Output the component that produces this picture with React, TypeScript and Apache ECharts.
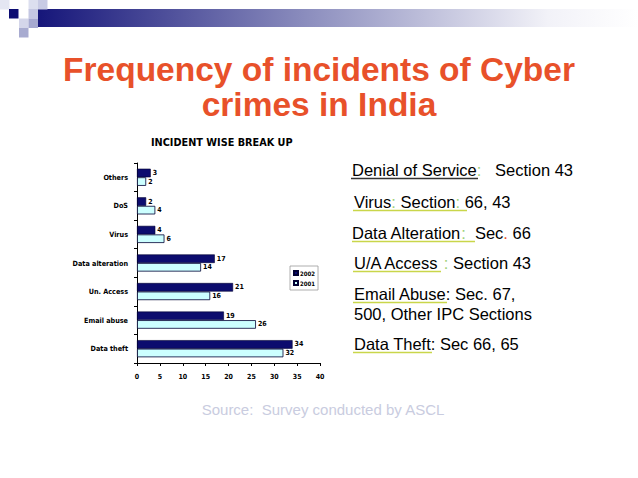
import React, { useEffect, useRef } from "react";
import * as echarts from "echarts";

const categories = ["Others", "DoS", "Virus", "Data alteration", "Un. Access", "Email abuse", "Data theft"];
const values2002 = [3, 2, 4, 17, 21, 19, 34];
const values2001 = [2, 4, 6, 14, 16, 26, 32];
const seriesNames = ["2002", "2001"];
const xTicks = { min: 0, max: 40, interval: 5 };

const titleLines = ["Frequency of incidents of Cyber", "crimes in India"];
const chartTitle = "INCIDENT WISE BREAK UP";
const sourceText = "Source:  Survey conducted by ASCL";

const NARROW = "'Liberation Sans Narrow', 'Arial Narrow', 'DejaVu Sans Condensed', sans-serif";
const ARIAL = "'Liberation Sans', Arial, sans-serif";

export default function App() {
  const ref = useRef<HTMLDivElement>(null);
  useEffect(() => {
    if (!ref.current) return;
    const chart = echarts.init(ref.current, undefined, { renderer: "svg" });

    const sq = (x: number, y: number, fill: string) => ({
      type: "rect", shape: { x, y, width: 9.5, height: 9.5 }, style: { fill }, silent: true,
    });
    const FS = 16.5;
    const txt = (x: number, baseline: number, text: string, rich?: any) => ({
      type: "text", x, y: baseline - 0.35 * FS,
      style: {
        text, fill: "#000", font: `${FS}px ${ARIAL}`, textVerticalAlign: "middle",
        rich,
      },
    });
    const uline = (x1: number, x2: number, y: number, color: string) => ({
      type: "line", shape: { x1, y1: y, x2, y2: y }, style: { stroke: color, lineWidth: 1.3 },
    });
    const yel = "#c9d64a";
    const green = "#9fd07a";
    const A = { font: `${FS}px ${ARIAL}`, fill: "#000" };
    const G = { font: `${FS}px ${ARIAL}`, fill: green };
    const TS = 33.5;

    const option: any = {
      animation: false,
      backgroundColor: "#ffffff",
      title: {
        text: chartTitle,
        left: 151, top: 137, padding: 0,
        textStyle: { fontFamily: NARROW, fontWeight: "bold", fontSize: 10.8, color: "#000" },
      },
      legend: {
        data: seriesNames,
        orient: "vertical",
        left: 290, top: 266,
        itemWidth: 4, itemHeight: 4, itemGap: 4,
        icon: "rect",
        padding: [4, 3, 4, 3],
        borderColor: "#999", borderWidth: 0.8,
        textStyle: { fontSize: 6, fontFamily: NARROW, fontWeight: "bold", color: "#000", padding: [0, 0, 0, -3] },
      },
      grid: { left: 137, right: 318, top: 163, bottom: 115 },
      xAxis: {
        type: "value", min: xTicks.min, max: xTicks.max, interval: xTicks.interval,
        axisLine: { show: true, lineStyle: { color: "#000", width: 1 } },
        axisTick: { show: true, length: 3, lineStyle: { color: "#000" } },
        axisLabel: { fontSize: 7, fontFamily: NARROW, fontWeight: "bold", color: "#000", margin: 10 },
        splitLine: { show: false },
      },
      yAxis: {
        type: "category", data: categories, inverse: true,
        axisLine: { show: true, lineStyle: { color: "#000", width: 1 } },
        axisTick: { show: true, length: 3, lineStyle: { color: "#000" } },
        axisLabel: { fontSize: 7.2, fontFamily: NARROW, fontWeight: "bold", color: "#000", margin: 9 },
      },
      series: [
        {
          name: seriesNames[0], type: "bar", data: values2002,
          barGap: "0%", barCategoryGap: "40%",
          itemStyle: { color: "#0c0c6e", borderColor: "#000033", borderWidth: 0.6 },
          label: { show: true, position: "right", distance: 2, fontSize: 7, fontFamily: NARROW, fontWeight: "bold", color: "#000" },
        },
        {
          name: seriesNames[1], type: "bar", data: values2001,
          barGap: "0%", barCategoryGap: "40%",
          itemStyle: { color: "#ccffff", borderColor: "#000033", borderWidth: 0.8 },
          label: { show: true, position: "right", distance: 2, fontSize: 7, fontFamily: NARROW, fontWeight: "bold", color: "#000" },
        },
      ],
      graphic: [
        {
          type: "rect", shape: { x: 38, y: 9, width: 600, height: 18 }, silent: true,
          style: {
            fill: new echarts.graphic.LinearGradient(0, 0, 1, 0, [
              { offset: 0, color: "#16167a" },
              { offset: 0.45, color: "#8c8ebe" },
              { offset: 0.85, color: "#f2f2f8" },
              { offset: 1, color: "#ffffff" },
            ]),
          },
        },
        sq(0, 0, "#e4e6f2"),
        sq(28.5, 0, "#dcdfef"),
        sq(38, 0, "#c8cbe4"),
        sq(9, 9, "#0c0c72"),
        sq(28.5, 9, "#c4c7e2"),
        sq(19, 18.5, "#d4d6ea"),
        sq(28.5, 18.5, "#a6a9d0"),
        sq(19, 28, "#a8abd0"),
        {
          type: "text", x: 319, y: 81 - 0.35 * TS,
          style: { text: titleLines[0], fill: "#e8512a", font: `bold ${TS}px ${ARIAL}`, textAlign: "center", textVerticalAlign: "middle" },
        },
        {
          type: "text", x: 319, y: 116 - 0.35 * TS,
          style: { text: titleLines[1], fill: "#e8512a", font: `bold ${TS}px ${ARIAL}`, textAlign: "center", textVerticalAlign: "middle" },
        },
        txt(352, 176, "{a|Denial of Service}{g|:}{a|   Section 43}", { a: A, g: G }),
        uline(351, 478, 178.5, "#333"),
        txt(354, 208, "{a|Virus}{g|:}{a| Section}{g|:}{a| 66, 43}", { a: A, g: G }),
        uline(353, 467, 210.5, yel),
        txt(352, 239, "{a|Data Alteration}{g|:}{a|  Sec}{o|.}{a| 66}", {
          a: A, g: G, o: { font: `${FS}px ${ARIAL}`, fill: "#e8512a" },
        }),
        uline(352, 475, 241.5, yel),
        txt(354, 269, "{a|U/A Access }{g|:}{a| Section 43}", { a: A, g: G }),
        uline(353, 441, 271.5, yel),
        txt(354, 300, "Email Abuse: Sec. 67,"),
        txt(354, 320, "500, Other IPC Sections"),
        uline(353, 447, 302.5, yel),
        txt(354, 350, "Data Theft: Sec 66, 65"),
        uline(353, 432, 352.5, yel),
        {
          type: "text", x: 323, y: 409,
          style: { text: sourceText, fill: "#c9cce0", font: `15px ${ARIAL}`, textAlign: "center", textVerticalAlign: "middle" },
        },
      ],
    };
    chart.setOption(option);
    return () => chart.dispose();
  }, []);
  return <div ref={ref} style={{ position: "absolute", left: 0, top: 0, width: 638, height: 478 }} />;
}
